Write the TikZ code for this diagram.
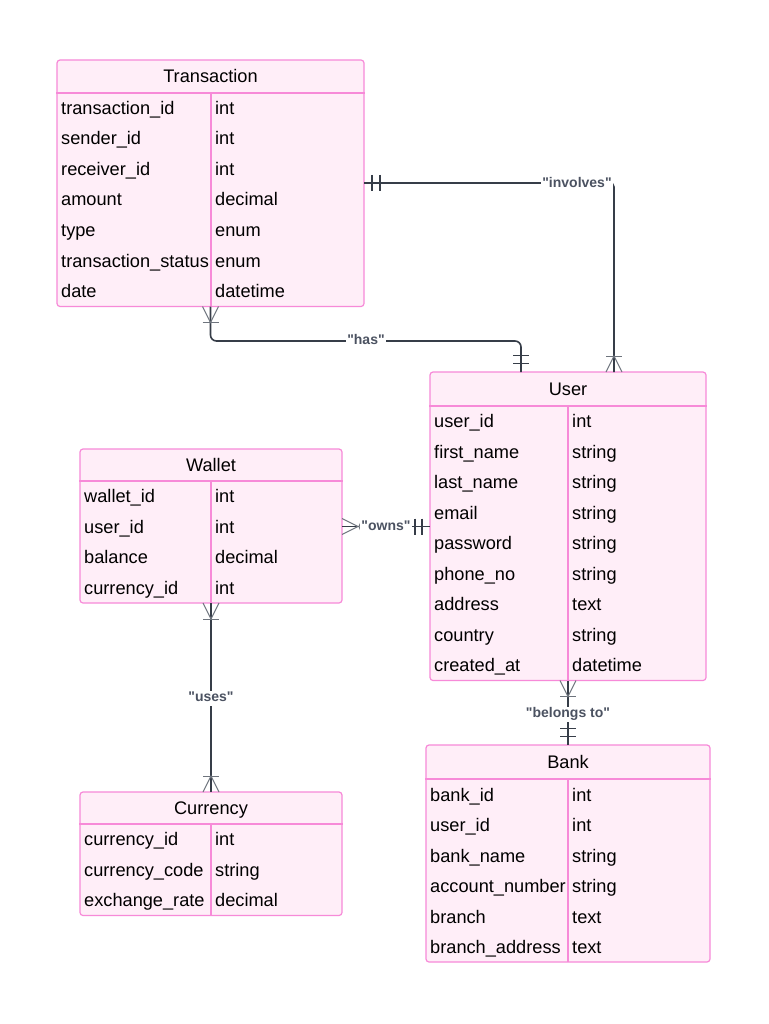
\documentclass[tikz,border=0pt]{standalone}
\usepackage{fontspec}
\setmainfont{Liberation Sans}
\definecolor{entline}{HTML}{F78AD8}
\definecolor{entfill}{HTML}{FFEEF8}
\definecolor{ink}{HTML}{363D48}
\definecolor{muted}{HTML}{4B5261}
\definecolor{soft}{HTML}{6E747D}
\newcommand{\rowtxt}{\fontsize{18.2}{21}\selectfont}
\newcommand{\reltxt}{\fontsize{14}{17}\selectfont\bfseries}
\newcommand{\qt}[1]{\textquotedbl#1\textquotedbl}
\tikzset{
  ent/.style={draw=entline,fill=entfill,line width=1.2pt,rounded corners=3pt,inner sep=0},
  sep/.style={draw=entline,line width=1.2pt},
  attr/.style={anchor=base west,inner sep=0,text=black},
  head/.style={anchor=base,inner sep=0,text=black},
  rel/.style={draw=ink,line width=1.6pt},
  bar/.style={draw=ink,line width=1.6pt},
  crow/.style={draw=soft,line width=1pt},
  lbl/.style={fill=white,inner sep=1pt,text height=10,text depth=3,text=muted,font=\reltxt}
}

\begin{document}
\begin{tikzpicture}[x=1pt,y=-1pt,font=\rowtxt]
\useasboundingbox[fill=white] (0,0) rectangle (768,1024);
\node[ent,minimum width=307,minimum height=246.5] (trans) at (210.5,183.25) {};
\draw[sep] (trans.west |- 0,93) -- (trans.east |- 0,93);
\draw[sep] (211,93) -- (211,306.5);
\node[head] (trans-h) at (210.5,83) {Transaction};
\node[attr] (trans-a1) at (61,114.5) {transaction\_id};
\node[attr] (trans-t1) at (215,114.5) {int};
\node[attr] (trans-a2) at (61,145) {sender\_id};
\node[attr] (trans-t2) at (215,145) {int};
\node[attr] (trans-a3) at (61,175.5) {receiver\_id};
\node[attr] (trans-t3) at (215,175.5) {int};
\node[attr] (trans-a4) at (61,206) {amount};
\node[attr] (trans-t4) at (215,206) {decimal};
\node[attr] (trans-a5) at (61,236.5) {type};
\node[attr] (trans-t5) at (215,236.5) {enum};
\node[attr] (trans-a6) at (61,267) {transaction\_status};
\node[attr] (trans-t6) at (215,267) {enum};
\node[attr] (trans-a7) at (61,297.5) {date};
\node[attr] (trans-t7) at (215,297.5) {datetime};
\node[ent,minimum width=276,minimum height=308.5] (user) at (568,526.25) {};
\draw[sep] (user.west |- 0,406) -- (user.east |- 0,406);
\draw[sep] (568,406) -- (568,680.5);
\node[head] (user-h) at (568,395.5) {User};
\node[attr] (user-a1) at (434,427.5) {user\_id};
\node[attr] (user-t1) at (572,427.5) {int};
\node[attr] (user-a2) at (434,458) {first\_name};
\node[attr] (user-t2) at (572,458) {string};
\node[attr] (user-a3) at (434,488.5) {last\_name};
\node[attr] (user-t3) at (572,488.5) {string};
\node[attr] (user-a4) at (434,519) {email};
\node[attr] (user-t4) at (572,519) {string};
\node[attr] (user-a5) at (434,549.5) {password};
\node[attr] (user-t5) at (572,549.5) {string};
\node[attr] (user-a6) at (434,580) {phone\_no};
\node[attr] (user-t6) at (572,580) {string};
\node[attr] (user-a7) at (434,610.5) {address};
\node[attr] (user-t7) at (572,610.5) {text};
\node[attr] (user-a8) at (434,641) {country};
\node[attr] (user-t8) at (572,641) {string};
\node[attr] (user-a9) at (434,671.5) {created\_at};
\node[attr] (user-t9) at (572,671.5) {datetime};
\node[ent,minimum width=262,minimum height=154] (wallet) at (211,526) {};
\draw[sep] (wallet.west |- 0,481) -- (wallet.east |- 0,481);
\draw[sep] (211,481) -- (211,603);
\node[head] (wallet-h) at (211,471.5) {Wallet};
\node[attr] (wallet-a1) at (84,502.5) {wallet\_id};
\node[attr] (wallet-t1) at (215,502.5) {int};
\node[attr] (wallet-a2) at (84,533) {user\_id};
\node[attr] (wallet-t2) at (215,533) {int};
\node[attr] (wallet-a3) at (84,563.5) {balance};
\node[attr] (wallet-t3) at (215,563.5) {decimal};
\node[attr] (wallet-a4) at (84,594) {currency\_id};
\node[attr] (wallet-t4) at (215,594) {int};
\node[ent,minimum width=262,minimum height=123.5] (curr) at (211,853.75) {};
\draw[sep] (curr.west |- 0,824) -- (curr.east |- 0,824);
\draw[sep] (211,824) -- (211,915.5);
\node[head] (curr-h) at (211,814.5) {Currency};
\node[attr] (curr-a1) at (84,845.5) {currency\_id};
\node[attr] (curr-t1) at (215,845.5) {int};
\node[attr] (curr-a2) at (84,876) {currency\_code};
\node[attr] (curr-t2) at (215,876) {string};
\node[attr] (curr-a3) at (84,906.5) {exchange\_rate};
\node[attr] (curr-t3) at (215,906.5) {decimal};
\node[ent,minimum width=284,minimum height=217] (bank) at (568,853.5) {};
\draw[sep] (bank.west |- 0,779) -- (bank.east |- 0,779);
\draw[sep] (568,779) -- (568,962);
\node[head] (bank-h) at (568,768.5) {Bank};
\node[attr] (bank-a1) at (430,801) {bank\_id};
\node[attr] (bank-t1) at (572,801) {int};
\node[attr] (bank-a2) at (430,831.5) {user\_id};
\node[attr] (bank-t2) at (572,831.5) {int};
\node[attr] (bank-a3) at (430,862) {bank\_name};
\node[attr] (bank-t3) at (572,862) {string};
\node[attr] (bank-a4) at (430,892.5) {account\_number};
\node[attr] (bank-t4) at (572,892.5) {string};
\node[attr] (bank-a5) at (430,923) {branch};
\node[attr] (bank-t5) at (572,923) {text};
\node[attr] (bank-a6) at (430,953.5) {branch\_address};
\node[attr] (bank-t6) at (572,953.5) {text};
\coordinate (invA) at (364,183);
\coordinate (invB) at (614,372);
\draw[rel,rounded corners=4] (invA) -- (invB |- invA) -- (invB);
\draw[bar] ([shift={(8,-8)}]invA) -- ++(0,16);
\draw[bar] ([shift={(16,-8)}]invA) -- ++(0,16);
\draw[crow] ([shift={(-8,0)}]invB) -- ([shift={(0,-16)}]invB) -- ([shift={(8,0)}]invB);
\draw[crow] ([shift={(-8,-16)}]invB) -- ++(16,0);
\coordinate (hasA) at (210.5,306.5);
\coordinate (hasB) at (521,372);
\draw[rel,rounded corners=6] (hasA) -- (hasA |- 0,341) -- (hasB |- 0,341) -- (hasB);
\draw[crow] ([shift={(-8,0)}]hasA) -- ([shift={(0,16)}]hasA) -- ([shift={(8,0)}]hasA);
\draw[crow] ([shift={(-8,16)}]hasA) -- ++(16,0);
\draw[bar] ([shift={(-8,-8.5)}]hasB) -- ++(16,0);
\draw[bar] ([shift={(-8,-16.5)}]hasB) -- ++(16,0);
\coordinate (ownA) at (342,526.5);
\coordinate (ownB) at (430,526.5);
\draw[rel] (ownA) -- (ownB);
\draw[crow] ([shift={(0,-8)}]ownA) -- ([shift={(16,0)}]ownA) -- ([shift={(0,8)}]ownA);
\draw[crow,fill=white] ([shift={(21.5,0)}]ownA) circle (4.5);
\draw[bar] ([shift={(-8,-8)}]ownB) -- ++(0,16);
\draw[bar] ([shift={(-15,-8)}]ownB) -- ++(0,16);
\coordinate (useA) at (211,603);
\coordinate (useB) at (211,792);
\draw[rel] (useA) -- (useB);
\draw[crow] ([shift={(-8,0)}]useA) -- ([shift={(0,16)}]useA) -- ([shift={(8,0)}]useA);
\draw[crow] ([shift={(-8,16)}]useA) -- ++(16,0);
\draw[crow] ([shift={(-8,0)}]useB) -- ([shift={(0,-16)}]useB) -- ([shift={(8,0)}]useB);
\draw[crow] ([shift={(-8,-16)}]useB) -- ++(16,0);
\coordinate (belA) at (568,680.5);
\coordinate (belB) at (568,745);
\draw[rel] (belA) -- (belB);
\draw[crow] ([shift={(-8,0)}]belA) -- ([shift={(0,16)}]belA) -- ([shift={(8,0)}]belA);
\draw[crow] ([shift={(-8,16)}]belA) -- ++(16,0);
\draw[bar] ([shift={(-8,-8.5)}]belB) -- ++(16,0);
\draw[bar] ([shift={(-8,-16.5)}]belB) -- ++(16,0);
\node[lbl] (inv-l) at (577,184) {\qt{involves}};
\node[lbl] (has-l) at (366,341) {\qt{has}};
\node[lbl] (own-l) at (386,526.5) {\qt{owns}};
\node[lbl] (use-l) at (211,698) {\qt{uses}};
\node[lbl] (bel-l) at (568,714) {\qt{belongs to}};
\end{tikzpicture}
\end{document}
